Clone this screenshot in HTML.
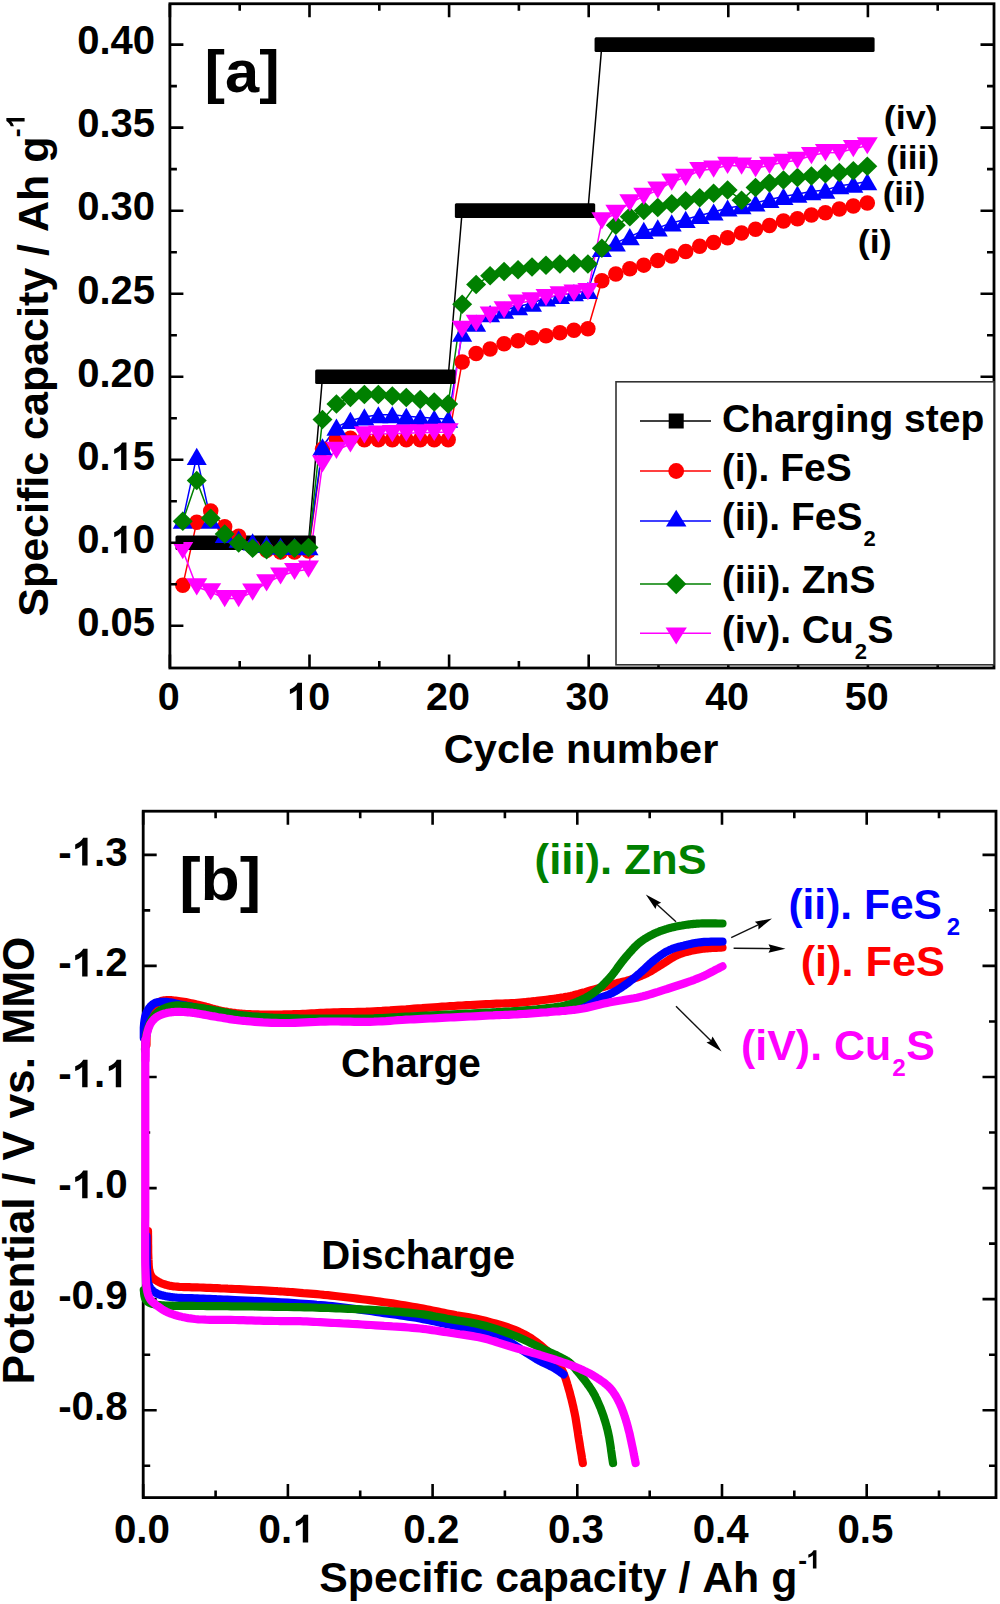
<!DOCTYPE html>
<html><head><meta charset="utf-8"><title>Specific capacity and potential plots</title>
<style>html,body{margin:0;padding:0;background:#fff;width:1000px;height:1604px;overflow:hidden}svg{display:block}text{font-family:"Liberation Sans",sans-serif;font-weight:bold;font-kerning:none}</style></head>
<body><svg width="1000" height="1604" viewBox="0 0 1000 1604">
<rect width="1000" height="1604" fill="#fff"/>
<polyline points="182.8,542.8 196.7,542.8 210.7,542.8 224.7,542.8 238.7,542.8 252.6,542.8 266.6,542.8 280.6,542.8 294.5,542.8 308.5,542.8 322.5,376.7 336.4,376.7 350.4,376.7 364.4,376.7 378.4,376.7 392.3,376.7 406.3,376.7 420.3,376.7 434.2,376.7 448.2,376.7 462.2,210.7 476.1,210.7 490.1,210.7 504.1,210.7 518.0,210.7 532.0,210.7 546.0,210.7 560.0,210.7 573.9,210.7 587.9,210.7 601.9,44.6 615.8,44.6 629.8,44.6 643.8,44.6 657.8,44.6 671.7,44.6 685.7,44.6 699.7,44.6 713.6,44.6 727.6,44.6 741.6,44.6 755.5,44.6 769.5,44.6 783.5,44.6 797.5,44.6 811.4,44.6 825.4,44.6 839.4,44.6 853.3,44.6 867.3,44.6" fill="none" stroke="#000000" stroke-width="1.5" stroke-linejoin="round"/>
<polyline points="182.8,585.3 196.7,522.2 210.7,510.9 224.7,526.7 238.7,536.1 252.6,546.9 266.6,550.3 280.6,551.9 294.5,551.9 308.5,551.1 322.5,449.1 336.4,439.5 350.4,438.2 364.4,439.8 378.4,439.8 392.3,439.8 406.3,439.8 420.3,439.8 434.2,439.8 448.2,439.8 462.2,361.9 476.1,353.5 490.1,349.0 504.1,343.7 518.0,340.7 532.0,337.7 546.0,335.7 560.0,332.7 573.9,330.2 587.9,328.7 601.9,280.7 615.8,274.1 629.8,268.8 643.8,265.1 657.8,260.5 671.7,256.0 685.7,251.5 699.7,246.2 713.6,242.5 727.6,237.7 741.6,232.9 755.5,229.3 769.5,225.4 783.5,221.0 797.5,218.8 811.4,215.0 825.4,212.7 839.4,209.0 853.3,206.0 867.3,203.0" fill="none" stroke="#ff0000" stroke-width="1.5" stroke-linejoin="round"/>
<polyline points="182.8,520.0 196.7,456.4 210.7,520.0 224.7,534.5 238.7,539.1 252.6,541.9 266.6,544.4 280.6,546.1 294.5,546.4 308.5,546.6 322.5,446.8 336.4,427.2 350.4,420.4 364.4,416.9 378.4,414.7 392.3,414.7 406.3,416.2 420.3,417.2 434.2,418.2 448.2,419.2 462.2,333.2 476.1,323.1 490.1,313.6 504.1,310.1 518.0,306.6 532.0,303.2 546.0,297.8 560.0,295.5 573.9,292.7 587.9,290.4 601.9,248.5 615.8,242.9 629.8,236.6 643.8,230.4 657.8,227.9 671.7,222.9 685.7,219.3 699.7,215.5 713.6,212.0 727.6,208.0 741.6,205.7 755.5,203.0 769.5,199.4 783.5,196.4 797.5,194.1 811.4,191.6 825.4,190.1 839.4,185.8 853.3,184.1 867.3,181.6" fill="none" stroke="#0000ff" stroke-width="1.5" stroke-linejoin="round"/>
<polyline points="182.8,521.2 196.7,480.5 210.7,518.2 224.7,534.0 238.7,542.9 252.6,548.3 266.6,549.8 280.6,549.8 294.5,548.3 308.5,547.4 322.5,419.6 336.4,404.0 350.4,397.5 364.4,394.5 378.4,394.5 392.3,396.0 406.3,397.5 420.3,399.5 434.2,402.0 448.2,404.0 462.2,304.3 476.1,284.4 490.1,275.8 504.1,271.6 518.0,269.8 532.0,267.1 546.0,265.3 560.0,264.0 573.9,263.3 587.9,264.0 601.9,248.2 615.8,225.3 629.8,216.8 643.8,210.5 657.8,207.5 671.7,203.7 685.7,200.7 699.7,197.7 713.6,193.2 727.6,189.9 741.6,200.2 755.5,187.4 769.5,182.9 783.5,179.9 797.5,177.6 811.4,176.1 825.4,173.6 839.4,172.5 853.3,170.8 867.3,166.3" fill="none" stroke="#008000" stroke-width="1.5" stroke-linejoin="round"/>
<polyline points="182.8,550.6 196.7,587.0 210.7,591.8 224.7,598.6 238.7,598.6 252.6,592.1 266.6,582.8 280.6,576.0 294.5,571.5 308.5,569.2 322.5,463.9 336.4,450.3 350.4,444.0 364.4,434.8 378.4,434.0 392.3,433.7 406.3,433.2 420.3,432.8 434.2,432.4 448.2,431.9 462.2,329.4 476.1,323.2 490.1,315.1 504.1,309.8 518.0,303.2 532.0,300.8 546.0,297.5 560.0,294.9 573.9,293.0 587.9,291.5 601.9,221.0 615.8,213.3 629.8,202.9 643.8,196.4 657.8,190.1 671.7,182.1 685.7,177.3 699.7,170.6 713.6,169.1 727.6,165.3 741.6,166.2 755.5,168.6 769.5,165.3 783.5,162.3 797.5,160.3 811.4,155.5 825.4,152.7 839.4,152.5 853.3,148.7 867.3,145.7" fill="none" stroke="#ff00ff" stroke-width="1.5" stroke-linejoin="round"/>
<rect x="175.47" y="535.48" width="140.33" height="14.6" rx="1.5" fill="#000"/>
<rect x="315.17" y="369.42" width="140.33" height="14.6" rx="1.5" fill="#000"/>
<rect x="454.87" y="203.36" width="140.33" height="14.6" rx="1.5" fill="#000"/>
<rect x="594.57" y="37.30" width="280.03" height="14.6" rx="1.5" fill="#000"/>
<circle cx="182.77" cy="585.29" r="7.75" fill="#ff0000"/>
<circle cx="196.74" cy="522.19" r="7.75" fill="#ff0000"/>
<circle cx="210.71" cy="510.90" r="7.75" fill="#ff0000"/>
<circle cx="224.68" cy="526.67" r="7.75" fill="#ff0000"/>
<circle cx="238.65" cy="536.14" r="7.75" fill="#ff0000"/>
<circle cx="252.62" cy="546.93" r="7.75" fill="#ff0000"/>
<circle cx="266.59" cy="550.25" r="7.75" fill="#ff0000"/>
<circle cx="280.56" cy="551.91" r="7.75" fill="#ff0000"/>
<circle cx="294.53" cy="551.91" r="7.75" fill="#ff0000"/>
<circle cx="308.50" cy="551.08" r="7.75" fill="#ff0000"/>
<circle cx="322.47" cy="449.12" r="7.75" fill="#ff0000"/>
<circle cx="336.44" cy="439.49" r="7.75" fill="#ff0000"/>
<circle cx="350.41" cy="438.16" r="7.75" fill="#ff0000"/>
<circle cx="364.38" cy="439.82" r="7.75" fill="#ff0000"/>
<circle cx="378.35" cy="439.82" r="7.75" fill="#ff0000"/>
<circle cx="392.32" cy="439.82" r="7.75" fill="#ff0000"/>
<circle cx="406.29" cy="439.82" r="7.75" fill="#ff0000"/>
<circle cx="420.26" cy="439.82" r="7.75" fill="#ff0000"/>
<circle cx="434.23" cy="439.82" r="7.75" fill="#ff0000"/>
<circle cx="448.20" cy="439.82" r="7.75" fill="#ff0000"/>
<circle cx="462.17" cy="361.94" r="7.75" fill="#ff0000"/>
<circle cx="476.14" cy="353.47" r="7.75" fill="#ff0000"/>
<circle cx="490.11" cy="348.99" r="7.75" fill="#ff0000"/>
<circle cx="504.08" cy="343.67" r="7.75" fill="#ff0000"/>
<circle cx="518.05" cy="340.68" r="7.75" fill="#ff0000"/>
<circle cx="532.02" cy="337.70" r="7.75" fill="#ff0000"/>
<circle cx="545.99" cy="335.70" r="7.75" fill="#ff0000"/>
<circle cx="559.96" cy="332.71" r="7.75" fill="#ff0000"/>
<circle cx="573.93" cy="330.22" r="7.75" fill="#ff0000"/>
<circle cx="587.90" cy="328.73" r="7.75" fill="#ff0000"/>
<circle cx="601.87" cy="280.74" r="7.75" fill="#ff0000"/>
<circle cx="615.84" cy="274.09" r="7.75" fill="#ff0000"/>
<circle cx="629.81" cy="268.78" r="7.75" fill="#ff0000"/>
<circle cx="643.78" cy="265.13" r="7.75" fill="#ff0000"/>
<circle cx="657.75" cy="260.48" r="7.75" fill="#ff0000"/>
<circle cx="671.72" cy="255.99" r="7.75" fill="#ff0000"/>
<circle cx="685.69" cy="251.51" r="7.75" fill="#ff0000"/>
<circle cx="699.66" cy="246.20" r="7.75" fill="#ff0000"/>
<circle cx="713.63" cy="242.54" r="7.75" fill="#ff0000"/>
<circle cx="727.60" cy="237.73" r="7.75" fill="#ff0000"/>
<circle cx="741.57" cy="232.91" r="7.75" fill="#ff0000"/>
<circle cx="755.54" cy="229.26" r="7.75" fill="#ff0000"/>
<circle cx="769.51" cy="225.44" r="7.75" fill="#ff0000"/>
<circle cx="783.48" cy="220.96" r="7.75" fill="#ff0000"/>
<circle cx="797.45" cy="218.80" r="7.75" fill="#ff0000"/>
<circle cx="811.42" cy="214.98" r="7.75" fill="#ff0000"/>
<circle cx="825.39" cy="212.65" r="7.75" fill="#ff0000"/>
<circle cx="839.36" cy="209.00" r="7.75" fill="#ff0000"/>
<circle cx="853.33" cy="206.01" r="7.75" fill="#ff0000"/>
<circle cx="867.30" cy="203.02" r="7.75" fill="#ff0000"/>
<polygon points="182.77,511.43 192.77,528.63 172.77,528.63" fill="#0000ff"/>
<polygon points="196.74,447.83 206.74,465.03 186.74,465.03" fill="#0000ff"/>
<polygon points="210.71,511.43 220.71,528.63 200.71,528.63" fill="#0000ff"/>
<polygon points="224.68,525.88 234.68,543.08 214.68,543.08" fill="#0000ff"/>
<polygon points="238.65,530.53 248.65,547.73 228.65,547.73" fill="#0000ff"/>
<polygon points="252.62,533.35 262.62,550.55 242.62,550.55" fill="#0000ff"/>
<polygon points="266.59,535.84 276.59,553.04 256.59,553.04" fill="#0000ff"/>
<polygon points="280.56,537.50 290.56,554.70 270.56,554.70" fill="#0000ff"/>
<polygon points="294.53,537.83 304.53,555.03 284.53,555.03" fill="#0000ff"/>
<polygon points="308.50,538.00 318.50,555.20 298.50,555.20" fill="#0000ff"/>
<polygon points="322.47,438.20 332.47,455.40 312.47,455.40" fill="#0000ff"/>
<polygon points="336.44,418.60 346.44,435.80 326.44,435.80" fill="#0000ff"/>
<polygon points="350.41,411.79 360.41,428.99 340.41,428.99" fill="#0000ff"/>
<polygon points="364.38,408.31 374.38,425.51 354.38,425.51" fill="#0000ff"/>
<polygon points="378.35,406.15 388.35,423.35 368.35,423.35" fill="#0000ff"/>
<polygon points="392.32,406.15 402.32,423.35 382.32,423.35" fill="#0000ff"/>
<polygon points="406.29,407.64 416.29,424.84 396.29,424.84" fill="#0000ff"/>
<polygon points="420.26,408.64 430.26,425.84 410.26,425.84" fill="#0000ff"/>
<polygon points="434.23,409.64 444.23,426.84 424.23,426.84" fill="#0000ff"/>
<polygon points="448.20,410.63 458.20,427.83 438.20,427.83" fill="#0000ff"/>
<polygon points="462.17,324.61 472.17,341.81 452.17,341.81" fill="#0000ff"/>
<polygon points="476.14,314.48 486.14,331.68 466.14,331.68" fill="#0000ff"/>
<polygon points="490.11,305.02 500.11,322.22 480.11,322.22" fill="#0000ff"/>
<polygon points="504.08,301.53 514.08,318.73 494.08,318.73" fill="#0000ff"/>
<polygon points="518.05,298.04 528.05,315.24 508.05,315.24" fill="#0000ff"/>
<polygon points="532.02,294.56 542.02,311.76 522.02,311.76" fill="#0000ff"/>
<polygon points="545.99,289.24 555.99,306.44 535.99,306.44" fill="#0000ff"/>
<polygon points="559.96,286.92 569.96,304.12 549.96,304.12" fill="#0000ff"/>
<polygon points="573.93,284.09 583.93,301.29 563.93,301.29" fill="#0000ff"/>
<polygon points="587.90,281.77 597.90,298.97 577.90,298.97" fill="#0000ff"/>
<polygon points="601.87,239.92 611.87,257.12 591.87,257.12" fill="#0000ff"/>
<polygon points="615.84,234.28 625.84,251.48 605.84,251.48" fill="#0000ff"/>
<polygon points="629.81,227.97 639.81,245.17 619.81,245.17" fill="#0000ff"/>
<polygon points="643.78,221.82 653.78,239.02 633.78,239.02" fill="#0000ff"/>
<polygon points="657.75,219.33 667.75,236.53 647.75,236.53" fill="#0000ff"/>
<polygon points="671.72,214.35 681.72,231.55 661.72,231.55" fill="#0000ff"/>
<polygon points="685.69,210.70 695.69,227.90 675.69,227.90" fill="#0000ff"/>
<polygon points="699.66,206.88 709.66,224.08 689.66,224.08" fill="#0000ff"/>
<polygon points="713.63,203.39 723.63,220.59 703.63,220.59" fill="#0000ff"/>
<polygon points="727.60,199.40 737.60,216.60 717.60,216.60" fill="#0000ff"/>
<polygon points="741.57,197.08 751.57,214.28 731.57,214.28" fill="#0000ff"/>
<polygon points="755.54,194.42 765.54,211.62 745.54,211.62" fill="#0000ff"/>
<polygon points="769.51,190.77 779.51,207.97 759.51,207.97" fill="#0000ff"/>
<polygon points="783.48,187.78 793.48,204.98 773.48,204.98" fill="#0000ff"/>
<polygon points="797.45,185.45 807.45,202.65 787.45,202.65" fill="#0000ff"/>
<polygon points="811.42,182.96 821.42,200.16 801.42,200.16" fill="#0000ff"/>
<polygon points="825.39,181.47 835.39,198.67 815.39,198.67" fill="#0000ff"/>
<polygon points="839.36,177.15 849.36,194.35 829.36,194.35" fill="#0000ff"/>
<polygon points="853.33,175.49 863.33,192.69 843.33,192.69" fill="#0000ff"/>
<polygon points="867.30,173.00 877.30,190.20 857.30,190.20" fill="#0000ff"/>
<polygon points="182.77,511.44 192.77,521.19 182.77,530.94 172.77,521.19" fill="#008000"/>
<polygon points="196.74,470.76 206.74,480.51 196.74,490.26 186.74,480.51" fill="#008000"/>
<polygon points="210.71,508.45 220.71,518.20 210.71,527.95 200.71,518.20" fill="#008000"/>
<polygon points="224.68,524.23 234.68,533.98 224.68,543.73 214.68,533.98" fill="#008000"/>
<polygon points="238.65,533.20 248.65,542.95 238.65,552.70 228.65,542.95" fill="#008000"/>
<polygon points="252.62,538.51 262.62,548.26 252.62,558.01 242.62,548.26" fill="#008000"/>
<polygon points="266.59,540.00 276.59,549.75 266.59,559.50 256.59,549.75" fill="#008000"/>
<polygon points="280.56,540.00 290.56,549.75 280.56,559.50 270.56,549.75" fill="#008000"/>
<polygon points="294.53,538.51 304.53,548.26 294.53,558.01 284.53,548.26" fill="#008000"/>
<polygon points="308.50,537.68 318.50,547.43 308.50,557.18 298.50,547.43" fill="#008000"/>
<polygon points="322.47,409.81 332.47,419.56 322.47,429.31 312.47,419.56" fill="#008000"/>
<polygon points="336.44,394.20 346.44,403.95 336.44,413.70 326.44,403.95" fill="#008000"/>
<polygon points="350.41,387.73 360.41,397.48 350.41,407.23 340.41,397.48" fill="#008000"/>
<polygon points="364.38,384.74 374.38,394.49 364.38,404.24 354.38,394.49" fill="#008000"/>
<polygon points="378.35,384.74 388.35,394.49 378.35,404.24 368.35,394.49" fill="#008000"/>
<polygon points="392.32,386.23 402.32,395.98 392.32,405.73 382.32,395.98" fill="#008000"/>
<polygon points="406.29,387.73 416.29,397.48 406.29,407.23 396.29,397.48" fill="#008000"/>
<polygon points="420.26,389.72 430.26,399.47 420.26,409.22 410.26,399.47" fill="#008000"/>
<polygon points="434.23,392.21 444.23,401.96 434.23,411.71 424.23,401.96" fill="#008000"/>
<polygon points="448.20,394.20 458.20,403.95 448.20,413.70 438.20,403.95" fill="#008000"/>
<polygon points="462.17,294.57 472.17,304.32 462.17,314.07 452.17,304.32" fill="#008000"/>
<polygon points="476.14,274.64 486.14,284.39 476.14,294.14 466.14,284.39" fill="#008000"/>
<polygon points="490.11,266.01 500.11,275.76 490.11,285.51 480.11,275.76" fill="#008000"/>
<polygon points="504.08,261.85 514.08,271.60 504.08,281.35 494.08,271.60" fill="#008000"/>
<polygon points="518.05,260.03 528.05,269.78 518.05,279.53 508.05,269.78" fill="#008000"/>
<polygon points="532.02,257.37 542.02,267.12 532.02,276.87 522.02,267.12" fill="#008000"/>
<polygon points="545.99,255.54 555.99,265.29 545.99,275.04 535.99,265.29" fill="#008000"/>
<polygon points="559.96,254.22 569.96,263.97 559.96,273.72 549.96,263.97" fill="#008000"/>
<polygon points="573.93,253.55 583.93,263.30 573.93,273.05 563.93,263.30" fill="#008000"/>
<polygon points="587.90,254.22 597.90,263.97 587.90,273.72 577.90,263.97" fill="#008000"/>
<polygon points="601.87,238.44 611.87,248.19 601.87,257.94 591.87,248.19" fill="#008000"/>
<polygon points="615.84,215.52 625.84,225.27 615.84,235.02 605.84,225.27" fill="#008000"/>
<polygon points="629.81,207.05 639.81,216.80 629.81,226.55 619.81,216.80" fill="#008000"/>
<polygon points="643.78,200.74 653.78,210.49 643.78,220.24 633.78,210.49" fill="#008000"/>
<polygon points="657.75,197.75 667.75,207.50 657.75,217.25 647.75,207.50" fill="#008000"/>
<polygon points="671.72,193.94 681.72,203.69 671.72,213.44 661.72,203.69" fill="#008000"/>
<polygon points="685.69,190.95 695.69,200.70 685.69,210.45 675.69,200.70" fill="#008000"/>
<polygon points="699.66,187.96 709.66,197.71 699.66,207.46 689.66,197.71" fill="#008000"/>
<polygon points="713.63,183.47 723.63,193.22 713.63,202.97 703.63,193.22" fill="#008000"/>
<polygon points="727.60,180.15 737.60,189.90 727.60,199.65 717.60,189.90" fill="#008000"/>
<polygon points="741.57,190.45 751.57,200.20 741.57,209.95 731.57,200.20" fill="#008000"/>
<polygon points="755.54,177.66 765.54,187.41 755.54,197.16 745.54,187.41" fill="#008000"/>
<polygon points="769.51,173.18 779.51,182.93 769.51,192.68 759.51,182.93" fill="#008000"/>
<polygon points="783.48,170.19 793.48,179.94 783.48,189.69 773.48,179.94" fill="#008000"/>
<polygon points="797.45,167.86 807.45,177.61 797.45,187.36 787.45,177.61" fill="#008000"/>
<polygon points="811.42,166.37 821.42,176.12 811.42,185.87 801.42,176.12" fill="#008000"/>
<polygon points="825.39,163.88 835.39,173.63 825.39,183.38 815.39,173.63" fill="#008000"/>
<polygon points="839.36,162.72 849.36,172.47 839.36,182.22 829.36,172.47" fill="#008000"/>
<polygon points="853.33,161.06 863.33,170.81 853.33,180.56 843.33,170.81" fill="#008000"/>
<polygon points="867.30,156.57 877.30,166.32 867.30,176.07 857.30,166.32" fill="#008000"/>
<polygon points="182.77,559.18 193.27,541.98 172.27,541.98" fill="#ff00ff"/>
<polygon points="196.74,595.55 207.24,578.35 186.24,578.35" fill="#ff00ff"/>
<polygon points="210.71,600.37 221.21,583.17 200.21,583.17" fill="#ff00ff"/>
<polygon points="224.68,607.18 235.18,589.98 214.18,589.98" fill="#ff00ff"/>
<polygon points="238.65,607.18 249.15,589.98 228.15,589.98" fill="#ff00ff"/>
<polygon points="252.62,600.70 263.12,583.50 242.12,583.50" fill="#ff00ff"/>
<polygon points="266.59,591.40 277.09,574.20 256.09,574.20" fill="#ff00ff"/>
<polygon points="280.56,584.59 291.06,567.39 270.06,567.39" fill="#ff00ff"/>
<polygon points="294.53,580.11 305.03,562.91 284.03,562.91" fill="#ff00ff"/>
<polygon points="308.50,577.78 319.00,560.58 298.00,560.58" fill="#ff00ff"/>
<polygon points="322.47,472.50 332.97,455.30 311.97,455.30" fill="#ff00ff"/>
<polygon points="336.44,458.88 346.94,441.68 325.94,441.68" fill="#ff00ff"/>
<polygon points="350.41,452.57 360.91,435.37 339.91,435.37" fill="#ff00ff"/>
<polygon points="364.38,443.44 374.88,426.24 353.88,426.24" fill="#ff00ff"/>
<polygon points="378.35,442.61 388.85,425.41 367.85,425.41" fill="#ff00ff"/>
<polygon points="392.32,442.28 402.82,425.08 381.82,425.08" fill="#ff00ff"/>
<polygon points="406.29,441.78 416.79,424.58 395.79,424.58" fill="#ff00ff"/>
<polygon points="420.26,441.45 430.76,424.25 409.76,424.25" fill="#ff00ff"/>
<polygon points="434.23,440.95 444.73,423.75 423.73,423.75" fill="#ff00ff"/>
<polygon points="448.20,440.45 458.70,423.25 437.70,423.25" fill="#ff00ff"/>
<polygon points="462.17,337.99 472.67,320.79 451.67,320.79" fill="#ff00ff"/>
<polygon points="476.14,331.85 486.64,314.65 465.64,314.65" fill="#ff00ff"/>
<polygon points="490.11,323.71 500.61,306.51 479.61,306.51" fill="#ff00ff"/>
<polygon points="504.08,318.40 514.58,301.20 493.58,301.20" fill="#ff00ff"/>
<polygon points="518.05,311.76 528.55,294.56 507.55,294.56" fill="#ff00ff"/>
<polygon points="532.02,309.43 542.52,292.23 521.52,292.23" fill="#ff00ff"/>
<polygon points="545.99,306.11 556.49,288.91 535.49,288.91" fill="#ff00ff"/>
<polygon points="559.96,303.45 570.46,286.25 549.46,286.25" fill="#ff00ff"/>
<polygon points="573.93,301.63 584.43,284.43 563.43,284.43" fill="#ff00ff"/>
<polygon points="587.90,300.13 598.40,282.93 577.40,282.93" fill="#ff00ff"/>
<polygon points="601.87,229.56 612.37,212.36 591.37,212.36" fill="#ff00ff"/>
<polygon points="615.84,221.92 626.34,204.72 605.34,204.72" fill="#ff00ff"/>
<polygon points="629.81,211.46 640.31,194.26 619.31,194.26" fill="#ff00ff"/>
<polygon points="643.78,204.98 654.28,187.78 633.28,187.78" fill="#ff00ff"/>
<polygon points="657.75,198.67 668.25,181.47 647.25,181.47" fill="#ff00ff"/>
<polygon points="671.72,190.70 682.22,173.50 661.22,173.50" fill="#ff00ff"/>
<polygon points="685.69,185.88 696.19,168.68 675.19,168.68" fill="#ff00ff"/>
<polygon points="699.66,179.24 710.16,162.04 689.16,162.04" fill="#ff00ff"/>
<polygon points="713.63,177.75 724.13,160.55 703.13,160.55" fill="#ff00ff"/>
<polygon points="727.60,173.93 738.10,156.73 717.10,156.73" fill="#ff00ff"/>
<polygon points="741.57,174.76 752.07,157.56 731.07,157.56" fill="#ff00ff"/>
<polygon points="755.54,177.25 766.04,160.05 745.04,160.05" fill="#ff00ff"/>
<polygon points="769.51,173.93 780.01,156.73 759.01,156.73" fill="#ff00ff"/>
<polygon points="783.48,170.94 793.98,153.74 772.98,153.74" fill="#ff00ff"/>
<polygon points="797.45,168.94 807.95,151.74 786.95,151.74" fill="#ff00ff"/>
<polygon points="811.42,164.13 821.92,146.93 800.92,146.93" fill="#ff00ff"/>
<polygon points="825.39,161.31 835.89,144.11 814.89,144.11" fill="#ff00ff"/>
<polygon points="839.36,161.14 849.86,143.94 828.86,143.94" fill="#ff00ff"/>
<polygon points="853.33,157.32 863.83,140.12 842.83,140.12" fill="#ff00ff"/>
<polygon points="867.30,154.33 877.80,137.13 856.80,137.13" fill="#ff00ff"/>
<rect x="169.9" y="3.75" width="824.1" height="664.25" fill="none" stroke="#000" stroke-width="2.8"/>
<path d="M169.9,668.0V654.5 M169.9,3.75V17.25 M239.7,668.0V661.0 M239.7,3.75V10.75 M309.5,668.0V654.5 M309.5,3.75V17.25 M379.3,668.0V661.0 M379.3,3.75V10.75 M449.1,668.0V654.5 M449.1,3.75V17.25 M518.9,668.0V661.0 M518.9,3.75V10.75 M588.7,668.0V654.5 M588.7,3.75V17.25 M658.5,668.0V661.0 M658.5,3.75V10.75 M728.3,668.0V654.5 M728.3,3.75V17.25 M798.1,668.0V661.0 M798.1,3.75V10.75 M867.9,668.0V654.5 M867.9,3.75V17.25 M937.7,668.0V661.0 M937.7,3.75V10.75 M169.9,625.8H183.4 M994.0,625.8H980.5 M169.9,584.3H176.9 M994.0,584.3H987.0 M169.9,542.8H183.4 M994.0,542.8H980.5 M169.9,501.3H176.9 M994.0,501.3H987.0 M169.9,459.8H183.4 M994.0,459.8H980.5 M169.9,418.2H176.9 M994.0,418.2H987.0 M169.9,376.7H183.4 M994.0,376.7H980.5 M169.9,335.2H176.9 M994.0,335.2H987.0 M169.9,293.7H183.4 M994.0,293.7H980.5 M169.9,252.2H176.9 M994.0,252.2H987.0 M169.9,210.7H183.4 M994.0,210.7H980.5 M169.9,169.1H176.9 M994.0,169.1H987.0 M169.9,127.6H183.4 M994.0,127.6H980.5 M169.9,86.1H176.9 M994.0,86.1H987.0 M169.9,44.6H183.4 M994.0,44.6H980.5" stroke="#000" stroke-width="2.6" fill="none"/>
<rect x="616" y="381.8" width="378.0" height="282.99999999999994" fill="#fff" stroke="#333" stroke-width="1.6"/>
<line x1="640" y1="421" x2="711" y2="421" stroke="#000000" stroke-width="1.5"/>
<rect x="668.70" y="413.50" width="15" height="15" fill="#000000"/>
<g transform="translate(722.04,431.60) scale(1.0000,1)" fill="#000000"><text x="0.00" y="0.00" font-size="39" xml:space="preserve">Charging step</text></g>
<line x1="640" y1="471" x2="711" y2="471" stroke="#ff0000" stroke-width="1.5"/>
<circle cx="676.20" cy="471.00" r="7.9" fill="#ff0000"/>
<g transform="translate(721.65,480.80) scale(1.0000,1)" fill="#000000"><text x="0.00" y="0.00" font-size="39" xml:space="preserve">(i). FeS</text></g>
<line x1="640" y1="521" x2="711" y2="521" stroke="#0000ff" stroke-width="1.5"/>
<polygon points="676.20,509.80 686.45,526.60 665.95,526.60" fill="#0000ff"/>
<g transform="translate(721.65,530.00) scale(1.0000,1)" fill="#000000"><text x="0.00" y="0.00" font-size="39" xml:space="preserve">(ii). FeS</text><text x="141.84" y="15.50" font-size="22" xml:space="preserve">2</text></g>
<line x1="640" y1="584" x2="711" y2="584" stroke="#008000" stroke-width="1.5"/>
<polygon points="676.20,573.75 686.30,584.00 676.20,594.25 666.10,584.00" fill="#008000"/>
<g transform="translate(721.65,593.00) scale(1.0000,1)" fill="#000000"><text x="0.00" y="0.00" font-size="39" xml:space="preserve">(iii). ZnS</text></g>
<line x1="640" y1="633.2" x2="711" y2="633.2" stroke="#ff00ff" stroke-width="1.5"/>
<polygon points="676.20,644.40 686.85,627.60 665.55,627.60" fill="#ff00ff"/>
<g transform="translate(721.65,643.00) scale(1.0000,1)" fill="#000000"><text x="0.00" y="0.00" font-size="39" xml:space="preserve">(iv). Cu</text><text x="133.16" y="15.50" font-size="22" xml:space="preserve">2</text><text x="145.89" y="0.00" font-size="39" xml:space="preserve">S</text></g>
<g transform="translate(155.10,636.48) scale(1.0000,1)" fill="#000"><text x="-77.85" y="0.00" font-size="40" xml:space="preserve">0.05</text></g>
<g transform="translate(155.10,553.24) scale(1.0000,1)" fill="#000"><text x="-77.85" y="0.00" font-size="40" xml:space="preserve">0.</text><path transform="translate(-44.49,0.00) scale(0.01953,-0.01953)" d="M812,0 L538,0 L538,1032 C438,938 320,868 184,825 L184,1073 C256,1097 334,1141 417,1206 C500,1271 557,1338 590,1409 L812,1409 Z"/><text x="-22.25" y="0.00" font-size="40" xml:space="preserve">0</text></g>
<g transform="translate(155.10,470.00) scale(1.0000,1)" fill="#000"><text x="-77.85" y="0.00" font-size="40" xml:space="preserve">0.</text><path transform="translate(-44.49,0.00) scale(0.01953,-0.01953)" d="M812,0 L538,0 L538,1032 C438,938 320,868 184,825 L184,1073 C256,1097 334,1141 417,1206 C500,1271 557,1338 590,1409 L812,1409 Z"/><text x="-22.25" y="0.00" font-size="40" xml:space="preserve">5</text></g>
<g transform="translate(155.10,386.76) scale(1.0000,1)" fill="#000"><text x="-77.85" y="0.00" font-size="40" xml:space="preserve">0.20</text></g>
<g transform="translate(155.10,303.52) scale(1.0000,1)" fill="#000"><text x="-77.85" y="0.00" font-size="40" xml:space="preserve">0.25</text></g>
<g transform="translate(155.10,220.28) scale(1.0000,1)" fill="#000"><text x="-77.85" y="0.00" font-size="40" xml:space="preserve">0.30</text></g>
<g transform="translate(155.10,137.04) scale(1.0000,1)" fill="#000"><text x="-77.85" y="0.00" font-size="40" xml:space="preserve">0.35</text></g>
<g transform="translate(155.10,53.80) scale(1.0000,1)" fill="#000"><text x="-77.85" y="0.00" font-size="40" xml:space="preserve">0.40</text></g>
<g transform="translate(168.70,710.00) scale(1.0000,1)" fill="#000"><text x="-10.98" y="0.00" font-size="39.5" xml:space="preserve">0</text></g>
<g transform="translate(308.30,710.00) scale(1.0000,1)" fill="#000"><path transform="translate(-21.97,0.00) scale(0.01929,-0.01929)" d="M812,0 L538,0 L538,1032 C438,938 320,868 184,825 L184,1073 C256,1097 334,1141 417,1206 C500,1271 557,1338 590,1409 L812,1409 Z"/><text x="0.00" y="0.00" font-size="39.5" xml:space="preserve">0</text></g>
<g transform="translate(447.90,710.00) scale(1.0000,1)" fill="#000"><text x="-21.97" y="0.00" font-size="39.5" xml:space="preserve">20</text></g>
<g transform="translate(587.50,710.00) scale(1.0000,1)" fill="#000"><text x="-21.97" y="0.00" font-size="39.5" xml:space="preserve">30</text></g>
<g transform="translate(727.10,710.00) scale(1.0000,1)" fill="#000"><text x="-21.97" y="0.00" font-size="39.5" xml:space="preserve">40</text></g>
<g transform="translate(866.70,710.00) scale(1.0000,1)" fill="#000"><text x="-21.97" y="0.00" font-size="39.5" xml:space="preserve">50</text></g>
<g transform="translate(443.84,762.50) scale(1.0000,1)" fill="#000000"><text x="0.00" y="0.00" font-size="41.5" xml:space="preserve">Cycle number</text></g>
<g transform="translate(204.51,92.30) scale(1.0240,1)" fill="#000000"><text x="0.00" y="0.00" font-size="60" xml:space="preserve">[a]</text></g>
<g transform="translate(48.30,616.79) rotate(-90) scale(1.0000,1)" fill="#000"><text x="0.00" y="0.00" font-size="43" xml:space="preserve">Specific capacity / Ah g</text><text x="479.43" y="-23.70" font-size="26.5" xml:space="preserve">-</text><path transform="translate(488.25,-23.70) scale(0.01294,-0.01294)" d="M812,0 L538,0 L538,1032 C438,938 320,868 184,825 L184,1073 C256,1097 334,1141 417,1206 C500,1271 557,1338 590,1409 L812,1409 Z"/></g>
<g transform="translate(883.70,129.40) scale(1.0757,1)" fill="#000000"><text x="0.00" y="0.00" font-size="33.4" xml:space="preserve">(iv)</text></g>
<g transform="translate(886.34,169.40) scale(1.0543,1)" fill="#000000"><text x="0.00" y="0.00" font-size="33.4" xml:space="preserve">(iii)</text></g>
<g transform="translate(882.65,204.80) scale(1.0479,1)" fill="#000000"><text x="0.00" y="0.00" font-size="33.4" xml:space="preserve">(ii)</text></g>
<g transform="translate(857.70,252.80) scale(1.0764,1)" fill="#000000"><text x="0.00" y="0.00" font-size="33.4" xml:space="preserve">(i)</text></g>
<rect x="143.2" y="811.2" width="852.8" height="686.3999999999999" fill="none" stroke="#000" stroke-width="2.8"/>
<path d="M143.2,1497.6V1484.1 M143.2,811.2V824.7 M215.6,1497.6V1490.6 M215.6,811.2V818.2 M287.9,1497.6V1484.1 M287.9,811.2V824.7 M360.2,1497.6V1490.6 M360.2,811.2V818.2 M432.6,1497.6V1484.1 M432.6,811.2V824.7 M504.9,1497.6V1490.6 M504.9,811.2V818.2 M577.3,1497.6V1484.1 M577.3,811.2V824.7 M649.7,1497.6V1490.6 M649.7,811.2V818.2 M722.0,1497.6V1484.1 M722.0,811.2V824.7 M794.3,1497.6V1490.6 M794.3,811.2V818.2 M866.7,1497.6V1484.1 M866.7,811.2V824.7 M939.0,1497.6V1490.6 M939.0,811.2V818.2 M143.2,1465.7H150.2 M996.0,1465.7H989.0 M143.2,1410.2H156.7 M996.0,1410.2H982.5 M143.2,1354.7H150.2 M996.0,1354.7H989.0 M143.2,1299.1H156.7 M996.0,1299.1H982.5 M143.2,1243.6H150.2 M996.0,1243.6H989.0 M143.2,1188.1H156.7 M996.0,1188.1H982.5 M143.2,1132.5H150.2 M996.0,1132.5H989.0 M143.2,1077.0H156.7 M996.0,1077.0H982.5 M143.2,1021.5H150.2 M996.0,1021.5H989.0 M143.2,965.9H156.7 M996.0,965.9H982.5 M143.2,910.4H150.2 M996.0,910.4H989.0 M143.2,854.9H156.7 M996.0,854.9H982.5" stroke="#000" stroke-width="2.6" fill="none"/>
<path d="M148.0,1231.0 L148.0,1234.0 L148.1,1237.0 L148.1,1240.1 L148.1,1243.3 L148.2,1246.4 L148.2,1249.4 L148.2,1252.3 L148.3,1255.1 L148.4,1257.7 L148.5,1260.0 L148.6,1261.3 L148.6,1262.6 L148.7,1263.8 L148.7,1265.0 L148.8,1266.1 L148.9,1267.1 L149.0,1268.1 L149.1,1269.1 L149.3,1270.1 L149.5,1271.0 L149.7,1271.7 L149.9,1272.4 L150.0,1273.0 L150.2,1273.6 L150.5,1274.2 L150.7,1274.8 L151.0,1275.4 L151.3,1275.9 L151.6,1276.5 L152.0,1277.0 L152.5,1277.5 L153.0,1278.1 L153.5,1278.5 L154.1,1279.0 L154.7,1279.5 L155.4,1279.9 L156.0,1280.3 L156.7,1280.7 L157.3,1281.1 L158.0,1281.5 L158.7,1281.9 L159.3,1282.2 L160.0,1282.6 L160.7,1282.9 L161.3,1283.2 L162.0,1283.5 L162.8,1283.7 L163.5,1284.0 L164.2,1284.3 L165.0,1284.5 L165.9,1284.8 L166.8,1285.0 L167.7,1285.2 L168.6,1285.5 L169.6,1285.7 L170.6,1285.9 L171.6,1286.0 L172.7,1286.2 L173.8,1286.4 L175.0,1286.5 L177.0,1286.7 L179.2,1286.9 L181.5,1287.0 L184.0,1287.1 L186.5,1287.1 L189.2,1287.2 L191.8,1287.3 L194.5,1287.3 L197.3,1287.4 L200.0,1287.5 L203.3,1287.6 L206.6,1287.8 L210.0,1287.9 L213.5,1288.1 L217.0,1288.2 L220.6,1288.4 L224.1,1288.5 L227.8,1288.7 L231.4,1288.8 L235.0,1289.0 L238.9,1289.2 L243.0,1289.4 L247.1,1289.6 L251.3,1289.8 L255.4,1290.0 L259.5,1290.2 L263.6,1290.4 L267.6,1290.6 L271.4,1290.8 L275.0,1291.0 L277.7,1291.2 L280.3,1291.3 L282.8,1291.5 L285.2,1291.7 L287.6,1291.8 L290.0,1292.0 L292.4,1292.2 L294.8,1292.4 L297.4,1292.6 L300.0,1292.8 L303.2,1293.1 L306.6,1293.3 L309.9,1293.6 L313.4,1293.9 L316.9,1294.2 L320.4,1294.5 L324.0,1294.9 L327.6,1295.2 L331.3,1295.6 L335.0,1296.0 L339.3,1296.5 L343.7,1297.0 L348.2,1297.5 L352.7,1298.0 L357.3,1298.6 L361.9,1299.2 L366.5,1299.8 L371.1,1300.4 L375.6,1301.0 L380.0,1301.6 L384.1,1302.2 L388.3,1302.8 L392.4,1303.4 L396.5,1304.1 L400.5,1304.7 L404.5,1305.3 L408.5,1306.0 L412.4,1306.7 L416.2,1307.3 L420.0,1308.0 L423.2,1308.6 L426.3,1309.2 L429.3,1309.8 L432.3,1310.4 L435.2,1311.0 L438.1,1311.6 L441.1,1312.2 L444.0,1312.8 L447.0,1313.4 L450.0,1314.0 L453.2,1314.6 L456.3,1315.2 L459.5,1315.7 L462.7,1316.2 L466.0,1316.8 L469.2,1317.4 L472.4,1318.0 L475.6,1318.6 L478.8,1319.3 L482.0,1320.0 L485.3,1320.8 L488.6,1321.7 L492.0,1322.6 L495.4,1323.5 L498.8,1324.5 L502.1,1325.5 L505.3,1326.5 L508.4,1327.5 L511.3,1328.6 L514.0,1329.6 L515.9,1330.4 L517.6,1331.1 L519.3,1331.8 L520.9,1332.6 L522.5,1333.4 L524.0,1334.1 L525.5,1334.9 L527.0,1335.8 L528.5,1336.7 L530.0,1337.6 L531.6,1338.6 L533.1,1339.7 L534.7,1340.8 L536.2,1341.9 L537.8,1343.1 L539.3,1344.2 L540.8,1345.4 L542.2,1346.6 L543.6,1347.8 L545.0,1349.0 L546.2,1350.1 L547.4,1351.1 L548.6,1352.2 L549.8,1353.3 L550.9,1354.4 L552.0,1355.4 L553.1,1356.6 L554.1,1357.7 L555.1,1358.8 L556.0,1360.0 L556.8,1361.1 L557.6,1362.2 L558.4,1363.4 L559.1,1364.5 L559.8,1365.7 L560.5,1366.9 L561.1,1368.1 L561.8,1369.4 L562.4,1370.7 L563.0,1372.0 L563.7,1373.6 L564.4,1375.3 L565.0,1377.0 L565.6,1378.7 L566.2,1380.5 L566.8,1382.4 L567.3,1384.2 L567.9,1386.1 L568.4,1388.1 L569.0,1390.0 L569.7,1392.3 L570.3,1394.7 L570.9,1397.2 L571.6,1399.7 L572.2,1402.2 L572.8,1404.8 L573.4,1407.3 L573.9,1409.9 L574.5,1412.5 L575.0,1415.0 L575.5,1417.5 L575.9,1420.0 L576.3,1422.5 L576.7,1425.0 L577.1,1427.6 L577.5,1430.1 L577.9,1432.6 L578.2,1435.1 L578.6,1437.5 L579.0,1440.0 L579.4,1442.3 L579.8,1444.7 L580.1,1447.0 L580.5,1449.3 L580.9,1451.6 L581.3,1453.8 L581.7,1456.1 L582.0,1458.4 L582.4,1460.7 L582.8,1463.0" fill="none" stroke="#ff0000" stroke-width="8.2" stroke-linecap="round" stroke-linejoin="round"/>
<path d="M146.5,1045.0 L146.5,1043.0 L146.5,1040.9 L146.5,1038.9 L146.5,1036.8 L146.5,1034.7 L146.5,1032.7 L146.6,1030.7 L146.7,1028.7 L146.8,1026.8 L147.0,1025.0 L147.2,1023.6 L147.4,1022.1 L147.6,1020.7 L147.9,1019.4 L148.1,1018.0 L148.4,1016.7 L148.8,1015.5 L149.1,1014.2 L149.5,1013.1 L150.0,1012.0 L150.4,1011.2 L150.8,1010.4 L151.3,1009.6 L151.8,1008.8 L152.3,1008.1 L152.8,1007.4 L153.4,1006.8 L153.9,1006.2 L154.4,1005.6 L155.0,1005.0 L155.5,1004.6 L155.9,1004.1 L156.4,1003.7 L156.9,1003.3 L157.4,1003.0 L157.9,1002.6 L158.4,1002.3 L158.9,1002.0 L159.5,1001.8 L160.0,1001.5 L160.5,1001.3 L161.1,1001.1 L161.6,1000.9 L162.2,1000.7 L162.8,1000.6 L163.4,1000.5 L164.0,1000.4 L164.6,1000.3 L165.3,1000.3 L166.0,1000.2 L167.1,1000.1 L168.4,1000.1 L169.7,1000.2 L171.1,1000.2 L172.5,1000.3 L173.9,1000.5 L175.4,1000.6 L177.0,1000.8 L178.5,1001.0 L180.0,1001.2 L181.9,1001.5 L183.8,1001.8 L185.8,1002.1 L187.8,1002.5 L189.8,1002.9 L191.8,1003.4 L193.9,1003.8 L196.0,1004.3 L198.0,1004.7 L200.0,1005.2 L202.0,1005.7 L204.0,1006.2 L206.0,1006.8 L208.0,1007.3 L210.0,1007.9 L212.0,1008.5 L214.0,1009.0 L216.0,1009.6 L218.0,1010.1 L220.0,1010.5 L222.0,1010.9 L224.0,1011.3 L226.0,1011.6 L228.0,1012.0 L230.0,1012.3 L232.0,1012.6 L234.0,1012.8 L236.0,1013.1 L238.0,1013.3 L240.0,1013.5 L242.0,1013.7 L244.0,1013.8 L246.0,1014.0 L248.0,1014.1 L250.0,1014.2 L252.0,1014.3 L254.0,1014.3 L256.0,1014.4 L258.0,1014.4 L260.0,1014.5 L262.0,1014.5 L264.0,1014.6 L266.0,1014.6 L268.0,1014.6 L270.0,1014.6 L272.0,1014.6 L274.0,1014.6 L276.0,1014.5 L278.0,1014.5 L280.0,1014.5 L282.0,1014.5 L283.9,1014.4 L285.9,1014.4 L287.8,1014.4 L289.7,1014.3 L291.7,1014.3 L293.7,1014.2 L295.7,1014.1 L297.8,1014.1 L300.0,1014.0 L302.7,1013.9 L305.5,1013.8 L308.4,1013.6 L311.4,1013.4 L314.4,1013.3 L317.4,1013.1 L320.5,1012.9 L323.6,1012.8 L326.8,1012.6 L330.0,1012.5 L333.8,1012.4 L337.6,1012.3 L341.6,1012.2 L345.6,1012.1 L349.6,1012.0 L353.7,1012.0 L357.8,1011.9 L361.9,1011.8 L366.0,1011.7 L370.0,1011.5 L374.0,1011.3 L378.0,1011.1 L382.0,1010.9 L386.0,1010.6 L390.0,1010.4 L394.0,1010.1 L398.0,1009.8 L402.0,1009.5 L406.0,1009.3 L410.0,1009.0 L414.0,1008.7 L418.0,1008.4 L422.0,1008.2 L426.0,1007.9 L430.0,1007.6 L434.0,1007.3 L438.0,1007.0 L442.0,1006.7 L446.0,1006.5 L450.0,1006.2 L454.0,1006.0 L458.1,1005.7 L462.2,1005.5 L466.3,1005.2 L470.4,1005.0 L474.4,1004.8 L478.4,1004.6 L482.4,1004.4 L486.2,1004.2 L490.0,1004.0 L493.2,1003.8 L496.3,1003.7 L499.4,1003.6 L502.5,1003.5 L505.5,1003.4 L508.5,1003.3 L511.4,1003.1 L514.3,1003.0 L517.2,1002.8 L520.0,1002.6 L522.5,1002.4 L525.0,1002.2 L527.4,1001.9 L529.8,1001.7 L532.2,1001.4 L534.5,1001.2 L536.9,1000.9 L539.2,1000.6 L541.6,1000.3 L544.0,1000.0 L546.4,999.7 L548.9,999.4 L551.5,999.0 L554.0,998.7 L556.5,998.4 L559.0,998.0 L561.4,997.6 L563.7,997.3 L565.9,996.9 L568.0,996.5 L569.3,996.2 L570.6,996.0 L571.7,995.7 L572.9,995.4 L573.9,995.1 L575.0,994.9 L576.1,994.5 L577.3,994.2 L578.6,993.9 L580.0,993.5 L582.5,992.8 L585.2,992.1 L588.1,991.2 L591.2,990.3 L594.4,989.4 L597.7,988.5 L600.9,987.6 L604.1,986.7 L607.1,985.8 L610.0,985.0 L612.4,984.4 L614.8,983.7 L617.1,983.1 L619.5,982.6 L621.8,982.0 L624.0,981.4 L626.2,980.9 L628.4,980.3 L630.5,979.6 L632.5,979.0 L634.1,978.4 L635.7,977.9 L637.3,977.3 L638.8,976.8 L640.2,976.2 L641.7,975.6 L643.1,975.0 L644.6,974.4 L646.0,973.7 L647.5,973.0 L649.0,972.2 L650.5,971.4 L652.0,970.5 L653.5,969.6 L655.0,968.7 L656.5,967.7 L658.0,966.8 L659.5,965.8 L661.0,964.9 L662.5,964.0 L664.0,963.1 L665.5,962.1 L667.0,961.2 L668.5,960.2 L669.9,959.2 L671.4,958.3 L672.9,957.4 L674.4,956.5 L676.0,955.7 L677.5,955.0 L679.0,954.4 L680.4,953.8 L681.9,953.3 L683.4,952.8 L684.9,952.4 L686.4,951.9 L688.0,951.6 L689.5,951.2 L691.0,950.8 L692.5,950.5 L694.0,950.2 L695.5,949.9 L697.0,949.6 L698.5,949.4 L700.0,949.2 L701.5,949.0 L703.0,948.8 L704.5,948.6 L706.0,948.5 L707.5,948.3 L709.0,948.2 L710.5,948.1 L712.0,948.0 L713.5,947.9 L715.0,947.8 L716.5,947.8 L718.0,947.7 L719.5,947.6 L721.0,947.6 L722.5,947.5" fill="none" stroke="#ff0000" stroke-width="8.2" stroke-linecap="round" stroke-linejoin="round"/>
<path d="M146.5,1236.0 L146.5,1239.5 L146.6,1243.0 L146.6,1246.7 L146.6,1250.3 L146.6,1253.9 L146.6,1257.5 L146.7,1260.9 L146.8,1264.2 L146.9,1267.2 L147.0,1270.0 L147.1,1271.7 L147.2,1273.3 L147.3,1274.9 L147.3,1276.4 L147.4,1277.8 L147.6,1279.2 L147.7,1280.5 L147.9,1281.7 L148.2,1282.9 L148.5,1284.0 L148.8,1284.7 L149.0,1285.4 L149.3,1286.1 L149.6,1286.7 L150.0,1287.3 L150.3,1287.9 L150.7,1288.5 L151.1,1289.0 L151.5,1289.5 L152.0,1290.0 L152.5,1290.5 L153.0,1291.0 L153.6,1291.4 L154.2,1291.8 L154.8,1292.3 L155.4,1292.6 L156.1,1293.0 L156.7,1293.4 L157.3,1293.7 L158.0,1294.0 L158.7,1294.3 L159.3,1294.5 L160.0,1294.8 L160.7,1295.0 L161.4,1295.2 L162.1,1295.3 L162.8,1295.5 L163.5,1295.7 L164.2,1295.8 L165.0,1296.0 L165.9,1296.2 L166.8,1296.4 L167.7,1296.5 L168.6,1296.7 L169.6,1296.8 L170.6,1297.0 L171.6,1297.1 L172.7,1297.3 L173.8,1297.4 L175.0,1297.5 L177.0,1297.7 L179.2,1297.8 L181.5,1297.9 L184.0,1298.0 L186.5,1298.1 L189.2,1298.2 L191.8,1298.2 L194.6,1298.3 L197.3,1298.4 L200.0,1298.5 L203.2,1298.6 L206.5,1298.8 L209.7,1298.9 L213.1,1299.0 L216.5,1299.2 L219.9,1299.3 L223.5,1299.5 L227.2,1299.6 L231.0,1299.8 L235.0,1300.0 L240.8,1300.3 L247.0,1300.6 L253.5,1300.9 L260.3,1301.2 L267.2,1301.6 L274.2,1301.9 L281.0,1302.3 L287.7,1302.7 L294.0,1303.1 L300.0,1303.5 L304.4,1303.8 L308.6,1304.1 L312.7,1304.4 L316.7,1304.8 L320.6,1305.1 L324.5,1305.4 L328.3,1305.8 L332.2,1306.2 L336.0,1306.6 L340.0,1307.0 L344.0,1307.5 L348.0,1308.0 L352.0,1308.5 L356.0,1309.0 L360.0,1309.6 L364.0,1310.2 L368.0,1310.8 L372.0,1311.3 L376.0,1311.9 L380.0,1312.5 L384.0,1313.1 L388.1,1313.6 L392.2,1314.2 L396.3,1314.8 L400.4,1315.4 L404.4,1316.0 L408.4,1316.6 L412.4,1317.2 L416.2,1317.8 L420.0,1318.5 L423.2,1319.1 L426.3,1319.7 L429.3,1320.3 L432.3,1321.0 L435.2,1321.6 L438.1,1322.3 L441.1,1322.9 L444.0,1323.5 L447.0,1324.2 L450.0,1324.8 L453.2,1325.4 L456.4,1326.0 L459.7,1326.6 L463.0,1327.1 L466.3,1327.7 L469.5,1328.2 L472.8,1328.8 L475.9,1329.5 L479.0,1330.2 L482.0,1331.0 L484.6,1331.8 L487.2,1332.5 L489.7,1333.4 L492.2,1334.2 L494.6,1335.1 L497.0,1336.0 L499.4,1337.0 L501.6,1338.0 L503.9,1339.0 L506.0,1340.0 L507.8,1340.9 L509.5,1341.9 L511.1,1342.8 L512.7,1343.8 L514.3,1344.9 L515.8,1345.9 L517.3,1346.9 L518.9,1348.0 L520.4,1349.0 L522.0,1350.0 L523.6,1351.0 L525.2,1352.0 L526.8,1353.1 L528.4,1354.1 L530.0,1355.1 L531.6,1356.1 L533.2,1357.1 L534.8,1358.1 L536.4,1359.1 L538.0,1360.0 L539.6,1360.9 L541.2,1361.7 L542.9,1362.5 L544.6,1363.3 L546.3,1364.1 L547.9,1364.9 L549.5,1365.7 L551.1,1366.4 L552.6,1367.2 L554.0,1368.0 L555.1,1368.6 L556.1,1369.3 L557.1,1369.9 L558.0,1370.6 L559.0,1371.2 L559.9,1371.8 L560.8,1372.5 L561.7,1373.1 L562.7,1373.8 L563.6,1374.4" fill="none" stroke="#0000ff" stroke-width="8.2" stroke-linecap="round" stroke-linejoin="round"/>
<path d="M143.8,1038.0 L143.8,1036.7 L143.8,1035.4 L143.8,1034.1 L143.8,1032.7 L143.8,1031.4 L143.8,1030.1 L143.8,1028.8 L143.8,1027.5 L143.9,1026.3 L144.0,1025.0 L144.1,1023.8 L144.2,1022.7 L144.4,1021.5 L144.5,1020.4 L144.7,1019.3 L144.9,1018.1 L145.1,1017.0 L145.4,1016.0 L145.7,1015.0 L146.0,1014.0 L146.3,1013.2 L146.6,1012.4 L147.0,1011.7 L147.4,1010.9 L147.8,1010.2 L148.2,1009.5 L148.6,1008.8 L149.1,1008.2 L149.5,1007.6 L150.0,1007.0 L150.4,1006.5 L150.9,1006.0 L151.4,1005.6 L151.8,1005.1 L152.3,1004.7 L152.8,1004.3 L153.3,1003.9 L153.9,1003.6 L154.4,1003.3 L155.0,1003.0 L155.6,1002.7 L156.3,1002.5 L157.0,1002.4 L157.6,1002.2 L158.4,1002.1 L159.1,1002.0 L159.8,1001.9 L160.5,1001.9 L161.3,1001.8 L162.0,1001.8 L162.8,1001.8 L163.6,1001.8 L164.3,1001.8 L165.1,1001.8 L165.9,1001.9 L166.7,1001.9 L167.5,1002.0 L168.3,1002.1 L169.2,1002.2 L170.0,1002.3 L170.9,1002.4 L171.9,1002.6 L172.8,1002.8 L173.8,1003.0 L174.7,1003.3 L175.7,1003.5 L176.7,1003.7 L177.8,1004.0 L178.9,1004.3 L180.0,1004.5 L181.7,1004.9 L183.6,1005.2 L185.5,1005.6 L187.5,1006.0 L189.6,1006.4 L191.7,1006.8 L193.8,1007.3 L195.9,1007.7 L198.0,1008.1 L200.0,1008.5 L202.0,1008.9 L204.0,1009.3 L206.0,1009.7 L208.0,1010.1 L210.0,1010.6 L212.0,1011.0 L214.0,1011.4 L216.0,1011.8 L218.0,1012.1 L220.0,1012.5 L222.0,1012.8 L223.9,1013.2 L225.9,1013.5 L227.8,1013.8 L229.7,1014.1 L231.7,1014.4 L233.7,1014.7 L235.7,1015.0 L237.8,1015.2 L240.0,1015.5 L242.8,1015.8 L245.6,1016.1 L248.5,1016.4 L251.6,1016.7 L254.6,1016.9 L257.7,1017.2 L260.8,1017.4 L263.9,1017.6 L267.0,1017.8 L270.0,1018.0 L273.0,1018.2 L276.0,1018.3 L279.0,1018.4 L282.0,1018.6 L285.0,1018.7 L288.0,1018.7 L291.0,1018.8 L294.0,1018.9 L297.0,1018.9 L300.0,1019.0 L303.0,1019.0 L305.9,1019.1 L308.9,1019.1 L311.8,1019.1 L314.7,1019.1 L317.7,1019.0 L320.7,1019.0 L323.7,1019.0 L326.8,1019.0 L330.0,1019.0 L333.8,1019.0 L337.6,1019.0 L341.6,1019.1 L345.6,1019.1 L349.6,1019.1 L353.7,1019.1 L357.8,1019.1 L361.9,1019.1 L366.0,1019.1 L370.0,1019.0 L374.0,1018.9 L378.0,1018.7 L382.0,1018.5 L386.0,1018.3 L390.0,1018.1 L394.0,1017.9 L398.0,1017.7 L402.0,1017.4 L406.0,1017.2 L410.0,1017.0 L414.0,1016.8 L418.0,1016.6 L422.0,1016.4 L426.0,1016.2 L430.0,1016.0 L434.0,1015.8 L438.0,1015.6 L442.0,1015.4 L446.0,1015.2 L450.0,1015.0 L454.0,1014.8 L458.1,1014.6 L462.2,1014.4 L466.3,1014.2 L470.4,1014.0 L474.4,1013.8 L478.4,1013.6 L482.4,1013.4 L486.2,1013.2 L490.0,1013.0 L493.2,1012.8 L496.3,1012.7 L499.3,1012.6 L502.3,1012.4 L505.3,1012.3 L508.2,1012.2 L511.1,1012.0 L514.1,1011.9 L517.0,1011.7 L520.0,1011.5 L523.0,1011.3 L526.0,1011.1 L529.0,1010.9 L532.0,1010.7 L535.0,1010.5 L538.0,1010.2 L541.0,1010.0 L544.0,1009.7 L547.0,1009.4 L550.0,1009.0 L553.1,1008.6 L556.2,1008.2 L559.3,1007.7 L562.5,1007.3 L565.7,1006.7 L568.8,1006.2 L571.8,1005.7 L574.7,1005.1 L577.4,1004.6 L580.0,1004.0 L581.7,1003.6 L583.4,1003.2 L584.9,1002.7 L586.4,1002.3 L587.9,1001.9 L589.3,1001.4 L590.7,1000.9 L592.1,1000.5 L593.5,1000.0 L595.0,999.5 L596.5,999.0 L598.0,998.5 L599.5,998.0 L601.0,997.5 L602.6,997.0 L604.1,996.5 L605.6,995.9 L607.0,995.3 L608.5,994.7 L610.0,994.0 L611.5,993.2 L613.1,992.5 L614.6,991.6 L616.1,990.8 L617.6,989.9 L619.1,988.9 L620.6,988.0 L622.1,987.0 L623.5,986.0 L625.0,985.0 L626.5,983.9 L628.1,982.8 L629.6,981.6 L631.1,980.4 L632.6,979.2 L634.1,978.0 L635.5,976.8 L637.0,975.5 L638.5,974.3 L640.0,973.0 L641.5,971.7 L643.0,970.3 L644.5,968.9 L646.0,967.5 L647.5,966.1 L648.9,964.7 L650.4,963.3 L651.9,962.0 L653.5,960.7 L655.0,959.5 L656.5,958.4 L657.9,957.3 L659.4,956.2 L660.9,955.2 L662.4,954.2 L663.9,953.2 L665.4,952.2 L666.9,951.4 L668.5,950.6 L670.0,949.8 L671.5,949.2 L672.9,948.6 L674.4,948.1 L675.9,947.6 L677.4,947.2 L678.9,946.8 L680.5,946.4 L682.0,946.0 L683.5,945.7 L685.0,945.3 L686.5,944.9 L687.9,944.6 L689.4,944.2 L690.8,943.9 L692.3,943.6 L693.8,943.3 L695.3,943.0 L696.8,942.7 L698.4,942.5 L700.0,942.3 L702.1,942.1 L704.2,941.9 L706.4,941.8 L708.7,941.8 L711.0,941.7 L713.3,941.7 L715.6,941.6 L717.9,941.6 L720.2,941.6 L722.5,941.5" fill="none" stroke="#0000ff" stroke-width="8.2" stroke-linecap="round" stroke-linejoin="round"/>
<path d="M143.8,1290.0 L143.9,1290.8 L144.0,1291.7 L144.1,1292.5 L144.1,1293.4 L144.2,1294.2 L144.3,1295.0 L144.4,1295.8 L144.6,1296.6 L144.8,1297.3 L145.0,1298.0 L145.2,1298.5 L145.4,1299.0 L145.7,1299.4 L146.0,1299.8 L146.2,1300.2 L146.5,1300.6 L146.9,1301.0 L147.2,1301.3 L147.6,1301.7 L148.0,1302.0 L148.5,1302.4 L149.1,1302.7 L149.8,1303.0 L150.5,1303.3 L151.2,1303.5 L151.9,1303.7 L152.7,1303.9 L153.4,1304.1 L154.2,1304.3 L155.0,1304.5 L155.9,1304.7 L156.8,1304.8 L157.7,1305.0 L158.6,1305.1 L159.5,1305.2 L160.5,1305.2 L161.5,1305.3 L162.6,1305.4 L163.7,1305.4 L165.0,1305.5 L167.6,1305.6 L170.6,1305.7 L173.9,1305.8 L177.5,1305.8 L181.2,1305.9 L185.0,1305.9 L188.8,1305.9 L192.7,1305.9 L196.4,1306.0 L200.0,1306.0 L203.5,1306.0 L206.8,1306.1 L210.2,1306.1 L213.5,1306.1 L216.8,1306.1 L220.2,1306.2 L223.7,1306.2 L227.3,1306.2 L231.1,1306.3 L235.0,1306.3 L240.8,1306.4 L247.0,1306.4 L253.5,1306.5 L260.3,1306.6 L267.2,1306.7 L274.2,1306.8 L281.0,1306.8 L287.7,1307.0 L294.0,1307.1 L300.0,1307.2 L304.4,1307.3 L308.6,1307.4 L312.7,1307.5 L316.7,1307.7 L320.6,1307.8 L324.5,1307.9 L328.3,1308.0 L332.2,1308.2 L336.0,1308.3 L340.0,1308.5 L344.0,1308.7 L348.0,1308.8 L352.0,1309.0 L356.0,1309.1 L360.0,1309.3 L364.0,1309.5 L368.0,1309.7 L372.0,1309.9 L376.0,1310.1 L380.0,1310.4 L384.0,1310.7 L388.1,1311.0 L392.2,1311.3 L396.3,1311.6 L400.4,1311.9 L404.4,1312.3 L408.4,1312.7 L412.4,1313.1 L416.2,1313.5 L420.0,1314.0 L423.2,1314.4 L426.3,1314.9 L429.3,1315.4 L432.3,1315.9 L435.2,1316.5 L438.1,1317.0 L441.1,1317.5 L444.0,1318.1 L447.0,1318.7 L450.0,1319.2 L453.2,1319.7 L456.3,1320.3 L459.5,1320.8 L462.8,1321.3 L466.0,1321.8 L469.2,1322.3 L472.4,1322.9 L475.6,1323.5 L478.8,1324.2 L482.0,1325.0 L485.2,1325.8 L488.4,1326.7 L491.7,1327.7 L494.9,1328.7 L498.1,1329.7 L501.3,1330.8 L504.5,1331.9 L507.7,1333.1 L510.8,1334.3 L514.0,1335.5 L517.3,1336.8 L520.6,1338.3 L524.0,1339.8 L527.4,1341.4 L530.7,1343.0 L534.0,1344.6 L537.2,1346.2 L540.3,1347.7 L543.2,1349.1 L546.0,1350.4 L547.9,1351.3 L549.6,1352.1 L551.4,1352.9 L553.1,1353.7 L554.7,1354.4 L556.3,1355.1 L557.8,1355.9 L559.3,1356.6 L560.7,1357.3 L562.0,1358.0 L562.9,1358.5 L563.8,1359.0 L564.7,1359.4 L565.5,1359.9 L566.2,1360.4 L567.0,1360.8 L567.8,1361.3 L568.5,1361.8 L569.2,1362.4 L570.0,1363.0 L570.8,1363.8 L571.7,1364.6 L572.5,1365.4 L573.3,1366.3 L574.1,1367.2 L574.9,1368.2 L575.7,1369.1 L576.4,1370.1 L577.2,1371.1 L578.0,1372.0 L578.8,1373.0 L579.6,1373.9 L580.4,1374.9 L581.2,1375.9 L582.0,1376.9 L582.8,1377.9 L583.6,1378.9 L584.4,1379.9 L585.2,1380.9 L586.0,1382.0 L586.8,1383.1 L587.6,1384.3 L588.5,1385.4 L589.3,1386.5 L590.1,1387.7 L590.9,1388.9 L591.7,1390.1 L592.5,1391.4 L593.2,1392.7 L594.0,1394.0 L594.9,1395.6 L595.7,1397.3 L596.6,1399.0 L597.4,1400.8 L598.2,1402.6 L599.0,1404.5 L599.8,1406.4 L600.6,1408.2 L601.3,1410.1 L602.0,1412.0 L602.7,1413.9 L603.4,1415.8 L604.0,1417.7 L604.6,1419.7 L605.2,1421.6 L605.8,1423.6 L606.4,1425.6 L606.9,1427.7 L607.5,1429.8 L608.0,1432.0 L608.6,1434.8 L609.2,1437.7 L609.7,1440.8 L610.2,1443.9 L610.7,1447.1 L611.1,1450.3 L611.6,1453.5 L612.0,1456.7 L612.5,1459.9 L613.0,1463.0" fill="none" stroke="#008000" stroke-width="8.2" stroke-linecap="round" stroke-linejoin="round"/>
<path d="M145.0,1050.0 L145.0,1049.0 L145.1,1048.0 L145.1,1047.0 L145.1,1046.0 L145.2,1045.0 L145.2,1044.0 L145.2,1043.0 L145.3,1042.0 L145.4,1041.0 L145.5,1040.0 L145.6,1039.0 L145.8,1038.0 L145.9,1037.0 L146.1,1036.0 L146.3,1034.9 L146.5,1033.9 L146.7,1032.9 L147.0,1031.9 L147.2,1031.0 L147.5,1030.0 L147.8,1029.1 L148.1,1028.1 L148.4,1027.2 L148.7,1026.3 L149.0,1025.4 L149.4,1024.4 L149.8,1023.6 L150.2,1022.7 L150.6,1021.8 L151.0,1021.0 L151.4,1020.2 L151.9,1019.5 L152.3,1018.7 L152.8,1018.0 L153.3,1017.3 L153.8,1016.6 L154.3,1015.9 L154.8,1015.2 L155.4,1014.6 L156.0,1014.0 L156.6,1013.4 L157.2,1012.8 L157.9,1012.3 L158.5,1011.8 L159.2,1011.3 L159.9,1010.8 L160.6,1010.3 L161.4,1009.8 L162.2,1009.4 L163.0,1009.0 L164.0,1008.5 L165.1,1008.1 L166.3,1007.6 L167.4,1007.2 L168.7,1006.8 L169.9,1006.5 L171.2,1006.2 L172.4,1005.9 L173.7,1005.7 L175.0,1005.5 L176.4,1005.4 L177.8,1005.4 L179.3,1005.4 L180.8,1005.5 L182.2,1005.6 L183.8,1005.8 L185.3,1005.9 L186.8,1006.1 L188.4,1006.3 L190.0,1006.5 L191.9,1006.7 L193.8,1007.0 L195.7,1007.2 L197.6,1007.5 L199.6,1007.8 L201.6,1008.1 L203.6,1008.4 L205.7,1008.8 L207.8,1009.1 L210.0,1009.5 L212.8,1010.0 L215.6,1010.5 L218.6,1011.1 L221.6,1011.7 L224.6,1012.3 L227.7,1012.9 L230.8,1013.5 L233.9,1014.1 L237.0,1014.6 L240.0,1015.0 L243.0,1015.4 L246.0,1015.7 L249.0,1016.0 L252.0,1016.3 L255.0,1016.5 L258.0,1016.7 L261.0,1017.0 L264.0,1017.1 L267.0,1017.3 L270.0,1017.5 L273.0,1017.7 L276.0,1017.8 L279.0,1017.9 L282.0,1018.1 L285.0,1018.2 L288.0,1018.2 L291.0,1018.3 L294.0,1018.4 L297.0,1018.4 L300.0,1018.5 L303.0,1018.5 L305.9,1018.6 L308.9,1018.6 L311.8,1018.6 L314.7,1018.6 L317.7,1018.5 L320.7,1018.5 L323.7,1018.5 L326.8,1018.5 L330.0,1018.5 L333.8,1018.5 L337.6,1018.5 L341.6,1018.6 L345.6,1018.6 L349.6,1018.6 L353.7,1018.6 L357.8,1018.6 L361.9,1018.6 L366.0,1018.6 L370.0,1018.5 L374.0,1018.4 L378.0,1018.2 L382.0,1018.0 L386.0,1017.8 L390.0,1017.6 L394.0,1017.4 L398.0,1017.2 L402.0,1016.9 L406.0,1016.7 L410.0,1016.5 L414.0,1016.3 L418.0,1016.1 L422.0,1015.9 L426.0,1015.7 L430.0,1015.5 L434.0,1015.3 L438.0,1015.1 L442.0,1014.9 L446.0,1014.7 L450.0,1014.5 L454.0,1014.3 L458.1,1014.1 L462.2,1013.9 L466.3,1013.7 L470.4,1013.5 L474.4,1013.3 L478.4,1013.1 L482.4,1012.9 L486.2,1012.7 L490.0,1012.5 L493.2,1012.3 L496.3,1012.2 L499.4,1012.0 L502.5,1011.9 L505.5,1011.7 L508.5,1011.5 L511.4,1011.4 L514.3,1011.2 L517.2,1011.0 L520.0,1010.8 L522.5,1010.6 L525.0,1010.4 L527.5,1010.2 L529.9,1010.0 L532.3,1009.8 L534.7,1009.5 L537.0,1009.3 L539.3,1009.0 L541.7,1008.8 L544.0,1008.5 L546.2,1008.2 L548.4,1008.0 L550.5,1007.8 L552.7,1007.5 L554.8,1007.2 L557.0,1007.0 L559.0,1006.6 L561.1,1006.3 L563.1,1005.9 L565.0,1005.5 L566.6,1005.1 L568.2,1004.7 L569.7,1004.3 L571.2,1003.8 L572.7,1003.3 L574.2,1002.8 L575.6,1002.3 L577.1,1001.7 L578.5,1001.1 L580.0,1000.5 L581.5,999.8 L583.1,999.1 L584.6,998.3 L586.1,997.5 L587.6,996.6 L589.1,995.8 L590.6,994.8 L592.1,993.9 L593.6,992.9 L595.0,991.8 L596.6,990.6 L598.1,989.3 L599.6,988.0 L601.2,986.6 L602.7,985.2 L604.2,983.7 L605.6,982.2 L607.1,980.7 L608.6,979.1 L610.0,977.5 L611.6,975.7 L613.1,973.8 L614.6,971.9 L616.1,969.9 L617.5,967.8 L619.0,965.8 L620.5,963.8 L622.0,961.8 L623.5,959.9 L625.0,958.0 L626.5,956.3 L627.9,954.6 L629.4,952.9 L630.9,951.3 L632.3,949.6 L633.8,948.0 L635.3,946.5 L636.9,945.0 L638.4,943.6 L640.0,942.3 L641.4,941.2 L642.9,940.1 L644.4,939.1 L645.9,938.2 L647.4,937.3 L648.9,936.4 L650.4,935.6 L651.9,934.8 L653.5,934.0 L655.0,933.3 L656.5,932.6 L658.0,932.0 L659.4,931.4 L660.9,930.8 L662.4,930.3 L663.9,929.8 L665.5,929.3 L667.0,928.9 L668.5,928.4 L670.0,928.0 L671.5,927.6 L673.0,927.2 L674.5,926.9 L676.0,926.6 L677.5,926.3 L679.0,926.0 L680.5,925.7 L682.0,925.5 L683.5,925.2 L685.0,925.0 L686.5,924.8 L687.9,924.6 L689.4,924.4 L690.8,924.2 L692.3,924.1 L693.8,923.9 L695.3,923.8 L696.8,923.7 L698.4,923.6 L700.0,923.5 L702.1,923.4 L704.2,923.4 L706.4,923.4 L708.7,923.4 L711.0,923.4 L713.3,923.4 L715.6,923.4 L717.9,923.5 L720.2,923.5 L722.5,923.5" fill="none" stroke="#008000" stroke-width="8.2" stroke-linecap="round" stroke-linejoin="round"/>
<path d="M145.3,1040.0 L145.3,1056.3 L145.3,1073.0 L145.3,1090.1 L145.3,1107.1 L145.3,1124.1 L145.3,1140.7 L145.3,1156.8 L145.3,1172.2 L145.3,1186.6 L145.3,1200.0 L145.3,1208.3 L145.3,1216.5 L145.2,1224.4 L145.2,1232.1 L145.2,1239.4 L145.2,1246.4 L145.2,1253.0 L145.2,1259.2 L145.3,1264.9 L145.5,1270.0 L145.6,1272.5 L145.7,1274.9 L145.8,1277.2 L145.9,1279.3 L146.0,1281.3 L146.1,1283.2 L146.3,1285.0 L146.5,1286.7 L146.7,1288.4 L147.0,1290.0 L147.2,1291.1 L147.4,1292.1 L147.7,1293.1 L147.9,1294.0 L148.2,1295.0 L148.5,1295.8 L148.8,1296.7 L149.2,1297.5 L149.6,1298.3 L150.0,1299.0 L150.4,1299.6 L150.8,1300.2 L151.3,1300.7 L151.7,1301.2 L152.2,1301.6 L152.7,1302.1 L153.3,1302.6 L153.8,1303.0 L154.4,1303.5 L155.0,1304.0 L155.8,1304.7 L156.7,1305.4 L157.7,1306.2 L158.7,1306.9 L159.7,1307.6 L160.8,1308.4 L161.8,1309.1 L162.9,1309.8 L164.0,1310.4 L165.0,1311.0 L166.0,1311.5 L166.9,1312.0 L167.8,1312.4 L168.8,1312.8 L169.7,1313.2 L170.7,1313.6 L171.7,1313.9 L172.7,1314.3 L173.8,1314.6 L175.0,1315.0 L176.7,1315.5 L178.4,1316.0 L180.2,1316.4 L182.1,1316.9 L184.1,1317.3 L186.1,1317.7 L188.2,1318.1 L190.4,1318.4 L192.7,1318.7 L195.0,1319.0 L198.4,1319.3 L202.1,1319.5 L206.0,1319.7 L210.0,1319.8 L214.1,1319.8 L218.3,1319.9 L222.6,1319.9 L226.8,1319.9 L230.9,1319.9 L235.0,1320.0 L239.0,1320.1 L243.1,1320.2 L247.3,1320.3 L251.4,1320.4 L255.6,1320.6 L259.7,1320.7 L263.7,1320.8 L267.6,1320.9 L271.4,1320.9 L275.0,1321.0 L277.7,1321.0 L280.3,1321.1 L282.8,1321.1 L285.2,1321.1 L287.6,1321.1 L290.0,1321.1 L292.4,1321.1 L294.8,1321.1 L297.4,1321.1 L300.0,1321.2 L303.2,1321.3 L306.6,1321.4 L309.9,1321.6 L313.4,1321.8 L316.9,1322.0 L320.4,1322.2 L324.0,1322.4 L327.6,1322.6 L331.3,1322.8 L335.0,1323.0 L339.3,1323.2 L343.7,1323.5 L348.2,1323.7 L352.7,1324.0 L357.3,1324.2 L361.9,1324.5 L366.5,1324.8 L371.1,1325.0 L375.6,1325.3 L380.0,1325.6 L384.1,1325.9 L388.2,1326.1 L392.4,1326.4 L396.5,1326.6 L400.5,1326.9 L404.5,1327.2 L408.5,1327.5 L412.4,1327.8 L416.2,1328.1 L420.0,1328.5 L423.2,1328.9 L426.3,1329.2 L429.3,1329.6 L432.3,1330.1 L435.2,1330.5 L438.1,1330.9 L441.1,1331.4 L444.0,1331.9 L447.0,1332.3 L450.0,1332.8 L453.2,1333.3 L456.3,1333.7 L459.5,1334.2 L462.8,1334.6 L466.0,1335.1 L469.2,1335.6 L472.4,1336.1 L475.6,1336.7 L478.8,1337.3 L482.0,1338.0 L485.2,1338.8 L488.4,1339.6 L491.6,1340.6 L494.8,1341.5 L498.0,1342.6 L501.2,1343.6 L504.4,1344.6 L507.6,1345.6 L510.8,1346.6 L514.0,1347.6 L517.2,1348.5 L520.4,1349.4 L523.6,1350.3 L526.8,1351.2 L530.0,1352.1 L533.2,1353.0 L536.4,1353.9 L539.6,1354.8 L542.8,1355.8 L546.0,1356.8 L549.3,1357.8 L552.6,1358.9 L556.0,1360.0 L559.4,1361.2 L562.7,1362.3 L566.0,1363.4 L569.3,1364.6 L572.3,1365.7 L575.3,1366.9 L578.0,1368.0 L579.9,1368.8 L581.6,1369.6 L583.3,1370.3 L584.9,1371.1 L586.4,1371.8 L588.0,1372.6 L589.5,1373.4 L591.0,1374.2 L592.5,1375.1 L594.0,1376.0 L595.7,1377.0 L597.4,1378.1 L599.1,1379.2 L600.7,1380.3 L602.4,1381.5 L604.1,1382.7 L605.7,1384.0 L607.2,1385.3 L608.6,1386.6 L610.0,1388.0 L611.2,1389.4 L612.4,1390.9 L613.5,1392.4 L614.5,1393.9 L615.5,1395.5 L616.5,1397.1 L617.4,1398.8 L618.3,1400.5 L619.1,1402.2 L620.0,1404.0 L620.9,1406.0 L621.8,1408.1 L622.6,1410.3 L623.4,1412.5 L624.2,1414.8 L624.9,1417.1 L625.7,1419.4 L626.3,1421.6 L627.0,1423.8 L627.6,1426.0 L628.1,1427.9 L628.6,1429.9 L629.1,1431.8 L629.6,1433.7 L630.0,1435.6 L630.4,1437.5 L630.8,1439.4 L631.2,1441.2 L631.6,1443.1 L632.0,1445.0 L632.4,1446.8 L632.8,1448.6 L633.1,1450.4 L633.5,1452.2 L633.8,1454.0 L634.2,1455.8 L634.5,1457.6 L634.9,1459.4 L635.2,1461.2 L635.6,1463.0" fill="none" stroke="#ff00ff" stroke-width="8.2" stroke-linecap="round" stroke-linejoin="round"/>
<path d="M145.5,1060.0 L145.5,1058.0 L145.6,1055.9 L145.6,1053.8 L145.6,1051.7 L145.6,1049.6 L145.6,1047.5 L145.7,1045.5 L145.7,1043.6 L145.8,1041.7 L146.0,1040.0 L146.1,1038.8 L146.3,1037.7 L146.4,1036.7 L146.6,1035.6 L146.8,1034.6 L147.0,1033.7 L147.2,1032.7 L147.5,1031.8 L147.7,1030.9 L148.0,1030.0 L148.2,1029.2 L148.5,1028.5 L148.7,1027.7 L149.0,1027.0 L149.3,1026.3 L149.6,1025.6 L149.9,1024.9 L150.2,1024.3 L150.6,1023.6 L151.0,1023.0 L151.4,1022.4 L151.8,1021.8 L152.3,1021.2 L152.8,1020.6 L153.3,1020.0 L153.8,1019.5 L154.3,1019.0 L154.9,1018.4 L155.4,1018.0 L156.0,1017.5 L156.6,1017.1 L157.2,1016.6 L157.9,1016.2 L158.6,1015.9 L159.3,1015.5 L160.0,1015.2 L160.7,1014.9 L161.4,1014.6 L162.2,1014.3 L163.0,1014.0 L164.0,1013.7 L165.0,1013.4 L166.0,1013.2 L167.1,1012.9 L168.2,1012.7 L169.3,1012.5 L170.5,1012.4 L171.6,1012.2 L172.8,1012.1 L174.0,1012.0 L175.5,1011.9 L177.1,1011.9 L178.7,1011.9 L180.4,1011.9 L182.0,1012.0 L183.7,1012.0 L185.4,1012.1 L187.0,1012.3 L188.5,1012.4 L190.0,1012.5 L191.1,1012.6 L192.1,1012.7 L193.1,1012.9 L194.0,1013.0 L194.9,1013.1 L195.9,1013.3 L196.8,1013.5 L197.8,1013.6 L198.9,1013.8 L200.0,1014.0 L201.7,1014.3 L203.6,1014.6 L205.5,1014.9 L207.5,1015.3 L209.6,1015.7 L211.7,1016.1 L213.8,1016.4 L215.9,1016.8 L218.0,1017.2 L220.0,1017.5 L222.0,1017.8 L223.9,1018.1 L225.8,1018.5 L227.7,1018.8 L229.6,1019.1 L231.5,1019.4 L233.5,1019.7 L235.6,1020.0 L237.7,1020.2 L240.0,1020.5 L243.4,1020.8 L247.0,1021.2 L250.8,1021.5 L254.8,1021.8 L258.9,1022.1 L263.0,1022.4 L267.2,1022.6 L271.5,1022.8 L275.8,1022.9 L280.0,1023.0 L284.8,1023.0 L289.7,1023.0 L294.8,1022.8 L299.9,1022.6 L305.0,1022.4 L310.1,1022.2 L315.2,1022.0 L320.3,1021.7 L325.2,1021.6 L330.0,1021.5 L334.2,1021.5 L338.3,1021.5 L342.3,1021.6 L346.3,1021.6 L350.3,1021.7 L354.2,1021.8 L358.1,1021.9 L362.1,1021.9 L366.0,1021.9 L370.0,1021.8 L374.0,1021.7 L378.0,1021.5 L382.0,1021.3 L386.0,1021.1 L390.0,1020.8 L394.0,1020.5 L398.0,1020.2 L402.0,1020.0 L406.0,1019.7 L410.0,1019.5 L414.0,1019.3 L418.0,1019.1 L422.0,1018.9 L426.0,1018.7 L430.0,1018.5 L434.0,1018.3 L438.0,1018.1 L442.0,1017.9 L446.0,1017.7 L450.0,1017.5 L454.0,1017.3 L458.1,1017.1 L462.2,1016.9 L466.3,1016.7 L470.4,1016.5 L474.4,1016.3 L478.4,1016.1 L482.4,1015.9 L486.2,1015.7 L490.0,1015.5 L493.2,1015.4 L496.3,1015.2 L499.3,1015.1 L502.3,1015.0 L505.3,1014.9 L508.2,1014.8 L511.1,1014.6 L514.1,1014.5 L517.0,1014.4 L520.0,1014.2 L523.0,1014.0 L526.0,1013.8 L529.0,1013.6 L532.0,1013.4 L535.0,1013.2 L538.0,1013.0 L541.0,1012.7 L544.0,1012.5 L547.0,1012.3 L550.0,1012.0 L553.0,1011.7 L556.0,1011.5 L559.0,1011.3 L562.0,1011.0 L565.0,1010.8 L568.0,1010.5 L571.0,1010.2 L574.0,1009.8 L577.0,1009.5 L580.0,1009.0 L583.0,1008.5 L586.0,1007.9 L589.0,1007.2 L592.0,1006.5 L595.0,1005.8 L598.0,1005.1 L601.0,1004.3 L604.0,1003.6 L607.0,1002.9 L610.0,1002.3 L613.0,1001.7 L616.0,1001.2 L619.0,1000.7 L622.0,1000.3 L625.0,999.8 L628.0,999.3 L631.0,998.8 L634.0,998.3 L637.0,997.7 L640.0,997.0 L643.0,996.3 L646.0,995.5 L649.0,994.6 L652.0,993.7 L655.0,992.8 L658.0,991.9 L661.0,990.9 L664.0,989.9 L667.0,989.0 L670.0,988.0 L673.0,987.0 L676.1,986.0 L679.2,985.0 L682.3,984.0 L685.3,983.0 L688.4,981.9 L691.4,980.9 L694.3,979.8 L697.2,978.6 L700.0,977.5 L702.4,976.5 L704.8,975.4 L707.0,974.3 L709.3,973.1 L711.5,972.0 L713.7,970.9 L715.9,969.7 L718.1,968.6 L720.3,967.4 L722.5,966.3" fill="none" stroke="#ff00ff" stroke-width="8.2" stroke-linecap="round" stroke-linejoin="round"/>
<g transform="translate(127.60,1420.00) scale(1.0000,1)" fill="#000"><text x="-69.44" y="0.00" font-size="40.3" xml:space="preserve">-0.8</text></g>
<g transform="translate(127.60,1309.12) scale(1.0000,1)" fill="#000"><text x="-69.44" y="0.00" font-size="40.3" xml:space="preserve">-0.9</text></g>
<g transform="translate(127.60,1198.24) scale(1.0000,1)" fill="#000"><text x="-69.44" y="0.00" font-size="40.3" xml:space="preserve">-</text><path transform="translate(-56.02,0.00) scale(0.01968,-0.01968)" d="M812,0 L538,0 L538,1032 C438,938 320,868 184,825 L184,1073 C256,1097 334,1141 417,1206 C500,1271 557,1338 590,1409 L812,1409 Z"/><text x="-33.61" y="0.00" font-size="40.3" xml:space="preserve">.0</text></g>
<g transform="translate(127.60,1087.36) scale(1.0000,1)" fill="#000"><text x="-69.44" y="0.00" font-size="40.3" xml:space="preserve">-</text><path transform="translate(-56.02,0.00) scale(0.01968,-0.01968)" d="M812,0 L538,0 L538,1032 C438,938 320,868 184,825 L184,1073 C256,1097 334,1141 417,1206 C500,1271 557,1338 590,1409 L812,1409 Z"/><text x="-33.61" y="0.00" font-size="40.3" xml:space="preserve">.</text><path transform="translate(-22.41,0.00) scale(0.01968,-0.01968)" d="M812,0 L538,0 L538,1032 C438,938 320,868 184,825 L184,1073 C256,1097 334,1141 417,1206 C500,1271 557,1338 590,1409 L812,1409 Z"/></g>
<g transform="translate(127.60,976.48) scale(1.0000,1)" fill="#000"><text x="-69.44" y="0.00" font-size="40.3" xml:space="preserve">-</text><path transform="translate(-56.02,0.00) scale(0.01968,-0.01968)" d="M812,0 L538,0 L538,1032 C438,938 320,868 184,825 L184,1073 C256,1097 334,1141 417,1206 C500,1271 557,1338 590,1409 L812,1409 Z"/><text x="-33.61" y="0.00" font-size="40.3" xml:space="preserve">.2</text></g>
<g transform="translate(127.60,865.60) scale(1.0000,1)" fill="#000"><text x="-69.44" y="0.00" font-size="40.3" xml:space="preserve">-</text><path transform="translate(-56.02,0.00) scale(0.01968,-0.01968)" d="M812,0 L538,0 L538,1032 C438,938 320,868 184,825 L184,1073 C256,1097 334,1141 417,1206 C500,1271 557,1338 590,1409 L812,1409 Z"/><text x="-33.61" y="0.00" font-size="40.3" xml:space="preserve">.3</text></g>
<g transform="translate(141.90,1542.60) scale(1.0000,1)" fill="#000"><text x="-28.01" y="0.00" font-size="40.3" xml:space="preserve">0.0</text></g>
<g transform="translate(286.60,1542.60) scale(1.0000,1)" fill="#000"><text x="-28.01" y="0.00" font-size="40.3" xml:space="preserve">0.</text><path transform="translate(5.60,0.00) scale(0.01968,-0.01968)" d="M812,0 L538,0 L538,1032 C438,938 320,868 184,825 L184,1073 C256,1097 334,1141 417,1206 C500,1271 557,1338 590,1409 L812,1409 Z"/></g>
<g transform="translate(431.30,1542.60) scale(1.0000,1)" fill="#000"><text x="-28.01" y="0.00" font-size="40.3" xml:space="preserve">0.2</text></g>
<g transform="translate(576.00,1542.60) scale(1.0000,1)" fill="#000"><text x="-28.01" y="0.00" font-size="40.3" xml:space="preserve">0.3</text></g>
<g transform="translate(720.70,1542.60) scale(1.0000,1)" fill="#000"><text x="-28.01" y="0.00" font-size="40.3" xml:space="preserve">0.4</text></g>
<g transform="translate(865.40,1542.60) scale(1.0000,1)" fill="#000"><text x="-28.01" y="0.00" font-size="40.3" xml:space="preserve">0.5</text></g>
<g transform="translate(319.22,1591.80) scale(1.0000,1)" fill="#000"><text x="0.00" y="0.00" font-size="42.8" xml:space="preserve">Specific capacity / Ah g</text><text x="479.09" y="-23.30" font-size="26.5" xml:space="preserve">-</text><path transform="translate(486.72,-23.30) scale(0.01294,-0.01294)" d="M812,0 L538,0 L538,1032 C438,938 320,868 184,825 L184,1073 C256,1097 334,1141 417,1206 C500,1271 557,1338 590,1409 L812,1409 Z"/></g>
<g transform="translate(34.30,1384.40) rotate(-90) scale(1.0000,1)" fill="#000"><text x="0.00" y="0.00" font-size="44.3" xml:space="preserve">Potential / V vs. MMO</text></g>
<g transform="translate(179.15,899.80) scale(1.0529,1)" fill="#000000"><text x="0.00" y="0.00" font-size="61" xml:space="preserve">[b]</text></g>
<g transform="translate(341.08,1076.80) scale(1.0023,1)" fill="#000000"><text x="0.00" y="0.00" font-size="40.5" xml:space="preserve">Charge</text></g>
<g transform="translate(321.19,1268.80) scale(1.0021,1)" fill="#000000"><text x="0.00" y="0.00" font-size="40" xml:space="preserve">Discharge</text></g>
<g transform="translate(534.62,873.80) scale(1.0267,1)" fill="#008000"><text x="0.00" y="0.00" font-size="42.5" xml:space="preserve">(iii). ZnS</text></g>
<g transform="translate(788.38,919.00) scale(1.0000,1)" fill="#0000ff"><text x="0.00" y="0.00" font-size="42.5" xml:space="preserve">(ii). FeS</text><text x="158.48" y="16.00" font-size="24" xml:space="preserve">2</text></g>
<g transform="translate(800.64,976.00) scale(1.0182,1)" fill="#ff0000"><text x="0.00" y="0.00" font-size="42.5" xml:space="preserve">(i). FeS</text></g>
<g transform="translate(741.06,1060.00) scale(1.0000,1)" fill="#ff00ff"><text x="0.00" y="0.00" font-size="42.9" xml:space="preserve">(iV). Cu</text><text x="151.13" y="16.30" font-size="24.3" xml:space="preserve">2</text><text x="165.14" y="0.00" font-size="42.9" xml:space="preserve">S</text></g>
<line x1="676" y1="921.8" x2="655.4" y2="903.1" stroke="#111" stroke-width="1.4"/>
<polygon points="645.8,894.4 661.2,902.7 656.9,904.5 655.5,909.0" fill="#000"/>
<line x1="731.2" y1="937.6" x2="760.2" y2="923.9" stroke="#111" stroke-width="1.4"/>
<polygon points="772,918.4 758.4,929.5 758.4,924.8 754.8,921.8" fill="#000"/>
<line x1="733.6" y1="948.2" x2="772.5" y2="948.6" stroke="#111" stroke-width="1.4"/>
<polygon points="785.5,948.7 768.5,952.8 770.5,948.6 768.5,944.3" fill="#000"/>
<line x1="676" y1="1006.3" x2="712.4" y2="1042.3" stroke="#111" stroke-width="1.4"/>
<polygon points="721.6,1051.4 706.5,1042.5 710.9,1040.9 712.5,1036.4" fill="#000"/>
</svg></body></html>
